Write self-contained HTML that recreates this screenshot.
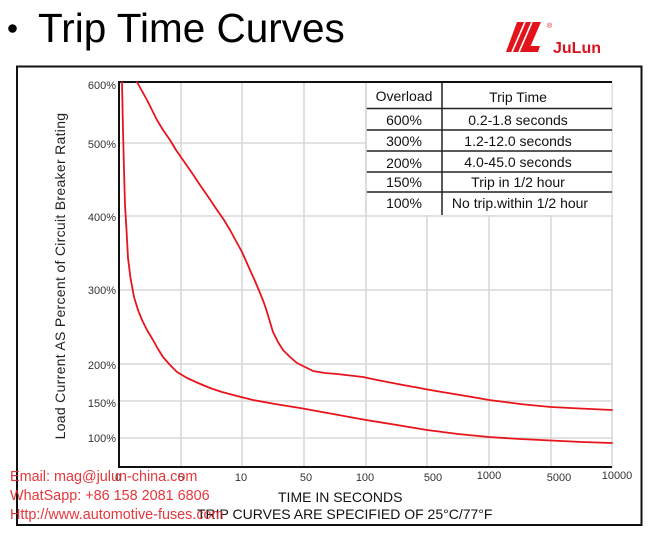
<!DOCTYPE html>
<html>
<head>
<meta charset="utf-8">
<style>
  html,body{margin:0;padding:0;background:#fff;}
  svg{display:block;}
  text{font-family:"Liberation Sans", Arial, sans-serif;}
</style>
</head>
<body>
<svg width="650" height="537" viewBox="0 0 650 537" xmlns="http://www.w3.org/2000/svg">
  <rect width="650" height="537" fill="#fff"/>

  <!-- Title -->
  <circle cx="12.5" cy="28.5" r="4.3" fill="#000"/>
  <text x="38" y="42" font-size="40.5" fill="#000">Trip Time Curves</text>

  <!-- Logo -->
  <g>
    <polygon points="517,22 541,22 528,52 506,52" fill="#e3131b"/>
    <polygon points="526,46 540,46 538,52 524,52" fill="#e3131b"/>
    <line x1="525" y1="22" x2="512" y2="52" stroke="#fff" stroke-width="1.6"/>
    <line x1="532" y1="22" x2="519" y2="52" stroke="#fff" stroke-width="1.6"/>
    <text x="547" y="28" font-size="7" fill="#e3131b">®</text>
    <text x="553" y="53" font-size="16" font-weight="bold" fill="#d9121f">JuLun</text>
  </g>

  <!-- Outer box -->
  <rect x="17" y="66.5" width="624.5" height="458.5" fill="none" stroke="#111" stroke-width="2"/>

  <!-- Grid lines -->
  <g stroke="#d8d8d8" stroke-width="1.6">
    <line x1="181" y1="82" x2="181" y2="467"/>
    <line x1="242" y1="82" x2="242" y2="467"/>
    <line x1="304" y1="82" x2="304" y2="467"/>
    <line x1="366" y1="82" x2="366" y2="467"/>
    <line x1="427" y1="82" x2="427" y2="467"/>
    <line x1="489" y1="82" x2="489" y2="467"/>
    <line x1="551" y1="82" x2="551" y2="467"/>
    <line x1="612" y1="82" x2="612" y2="467"/>
    <line x1="119" y1="143" x2="612" y2="143"/>
    <line x1="119" y1="216" x2="612" y2="216"/>
    <line x1="119" y1="290" x2="612" y2="290"/>
    <line x1="119" y1="364" x2="612" y2="364"/>
    <line x1="119" y1="401" x2="612" y2="401"/>
    <line x1="119" y1="438" x2="612" y2="438"/>
  </g>

  <!-- Table -->
  <rect x="367" y="83" width="244.5" height="132" fill="#fff"/>
  <g stroke="#222" stroke-width="1.5">
    <line x1="366" y1="108.5" x2="612" y2="108.5"/>
    <line x1="366" y1="130" x2="612" y2="130"/>
    <line x1="366" y1="151" x2="612" y2="151"/>
    <line x1="366" y1="172" x2="612" y2="172"/>
    <line x1="366" y1="192" x2="612" y2="192"/>
    <line x1="442" y1="82" x2="442" y2="215"/>
  </g>
  <line x1="366" y1="82" x2="366" y2="216" stroke="#d8d8d8" stroke-width="1.6"/>
  <g font-size="14" fill="#111" text-anchor="middle">
    <text x="404" y="101">Overload</text>
    <text x="518" y="102">Trip Time</text>
    <text x="404" y="125">600%</text>
    <text x="518" y="125">0.2-1.8 seconds</text>
    <text x="404" y="146">300%</text>
    <text x="518" y="146">1.2-12.0 seconds</text>
    <text x="404" y="168">200%</text>
    <text x="518" y="167">4.0-45.0 seconds</text>
    <text x="404" y="187">150%</text>
    <text x="518" y="187">Trip in 1/2 hour</text>
    <text x="404" y="208">100%</text>
    <text x="520" y="208">No trip.within 1/2 hour</text>
  </g>

  <!-- Axes -->
  <line x1="119" y1="82" x2="612" y2="82" stroke="#111" stroke-width="2"/>
  <line x1="119" y1="81" x2="119" y2="468" stroke="#111" stroke-width="2"/>
  <line x1="118" y1="467" x2="612" y2="467" stroke="#111" stroke-width="2"/>

  <!-- Curves -->
  <g fill="none" stroke="#e8141c" stroke-width="1.8" stroke-linejoin="round" stroke-linecap="round">
    <polyline points="122,82 123,130 124,170 125,205 126.5,230 128,258 130.5,278 134,297 138,310 142,320 147,330 153,340 158,349 163,357 170,365 177,372 187,378 198,383 210,388 222,392 237,396 253,400 275,404 300,408 333,414 366,420 397,425 427,430 458,434 489,437 520,439 551,440.5 582,442 612,443"/>
    <polyline points="137,82 142,91 147,100 152,110 157,120 163,130 170,140 176,150 183,160 192,173 200,185 209,198 217,210 224,220 230,230 236,241 242,252 246,261 250,270 255,281 260,293 264,303 267,312 270,322 273,332 278,342 283,350 290,357 297,363 305,367 313,371 325,373 337,374 350,375.5 363,377 377,380 390,382.5 403,385 417,387.5 430,390 445,392.5 460,395 475,397.5 489,400 505,402 520,404 535,405.5 551,407 580,408.5 612,410"/>
  </g>

  <!-- Y tick labels -->
  <g font-size="11" fill="#333" text-anchor="end">
    <text x="116" y="89">600%</text>
    <text x="116" y="148">500%</text>
    <text x="116" y="221">400%</text>
    <text x="116" y="294">300%</text>
    <text x="116" y="369">200%</text>
    <text x="116" y="407">150%</text>
    <text x="116" y="442">100%</text>
  </g>

  <!-- X tick labels -->
  <g font-size="11" fill="#333" text-anchor="middle">
    <text x="118" y="481">0</text>
    <text x="181" y="481">5</text>
    <text x="241" y="481">10</text>
    <text x="306" y="481">50</text>
    <text x="365" y="481">100</text>
    <text x="433" y="481">500</text>
    <text x="489" y="479">1000</text>
    <text x="559" y="481">5000</text>
    <text x="617" y="479">10000</text>
  </g>

  <!-- Axis titles -->
  <text x="0" y="0" font-size="14" fill="#222" letter-spacing="0.3" text-anchor="middle" transform="translate(65,276) rotate(-90)">Load Current AS Percent of Circuit Breaker Rating</text>
  <text x="278" y="502" font-size="14" fill="#111">TIME IN SECONDS</text>
  <text x="197" y="519" font-size="14" fill="#111">TRIP CURVES ARE SPECIFIED OF 25°C/77°F</text>

  <!-- Watermark -->
  <g font-size="14.4" fill="#e3262b" fill-opacity="0.92">
    <text x="10" y="481">Email: mag@julun-china.com</text>
    <text x="10" y="500">WhatSapp: +86 158 2081 6806</text>
    <text x="10" y="519">Http://www.automotive-fuses.com</text>
  </g>
</svg>
</body>
</html>
